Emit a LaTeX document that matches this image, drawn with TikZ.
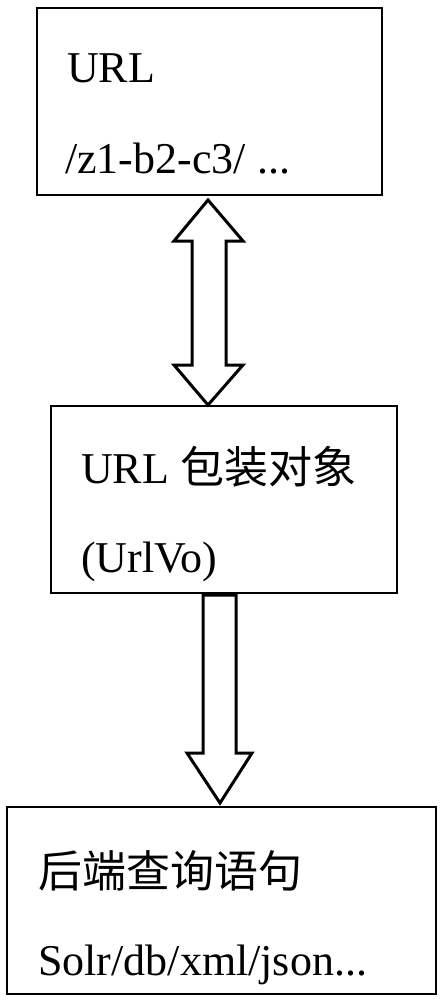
\documentclass[tikz,border=0pt]{standalone}
\usepackage{fontspec}
\setmainfont{Liberation Serif}
\newfontfamily\cjk{Noto Sans CJK SC}
\begin{document}
\begin{tikzpicture}[x=1pt,y=-1pt,
  box/.style={draw=black,line width=2pt,fill=white,inner sep=0pt},
  txt/.style={anchor=base west,inner sep=0pt,font=\fontsize{44}{50}\selectfont},
  blockarrow/.style={draw=black,line width=3pt,fill=white,line join=miter}]
\useasboundingbox (0,0) rectangle (439,1000);
\node[box,minimum width=345pt,minimum height=187pt] (b1) at (209.5,101.5) {};
\node[box,minimum width=346pt,minimum height=187pt] (b2) at (224,499.5) {};
\node[box,minimum width=429pt,minimum height=187pt] (b3) at (221.5,900.5) {};
\node[txt] (t1a) at (67,83) {URL};
\node[txt] (t1b) at (65,174) {/z1-b2-c3/ ...};
\node[txt] (t2a) at (81,483) {URL {\cjk 包装对象}};
\node[txt] (t2b) at (81,572) {(UrlVo)};
\node[txt] (t3a) at (38,887) {\cjk 后端查询语句};
\node[txt] (t3b) at (38,975) {Solr/db/xml/json...};
% double block arrow between b1 and b2
\draw[blockarrow] (208,200) -- (243,241) -- (226,241) -- (226,365) -- (243,365)
  -- (208,405) -- (174,365) -- (192,365) -- (192,241) -- (174,241) -- cycle;
% single block arrow from b2 to b3
\draw[blockarrow] (203,595) -- (236,595) -- (236,753) -- (252,753) -- (220,803)
  -- (187,753) -- (203,753) -- cycle;
\end{tikzpicture}
\end{document}
